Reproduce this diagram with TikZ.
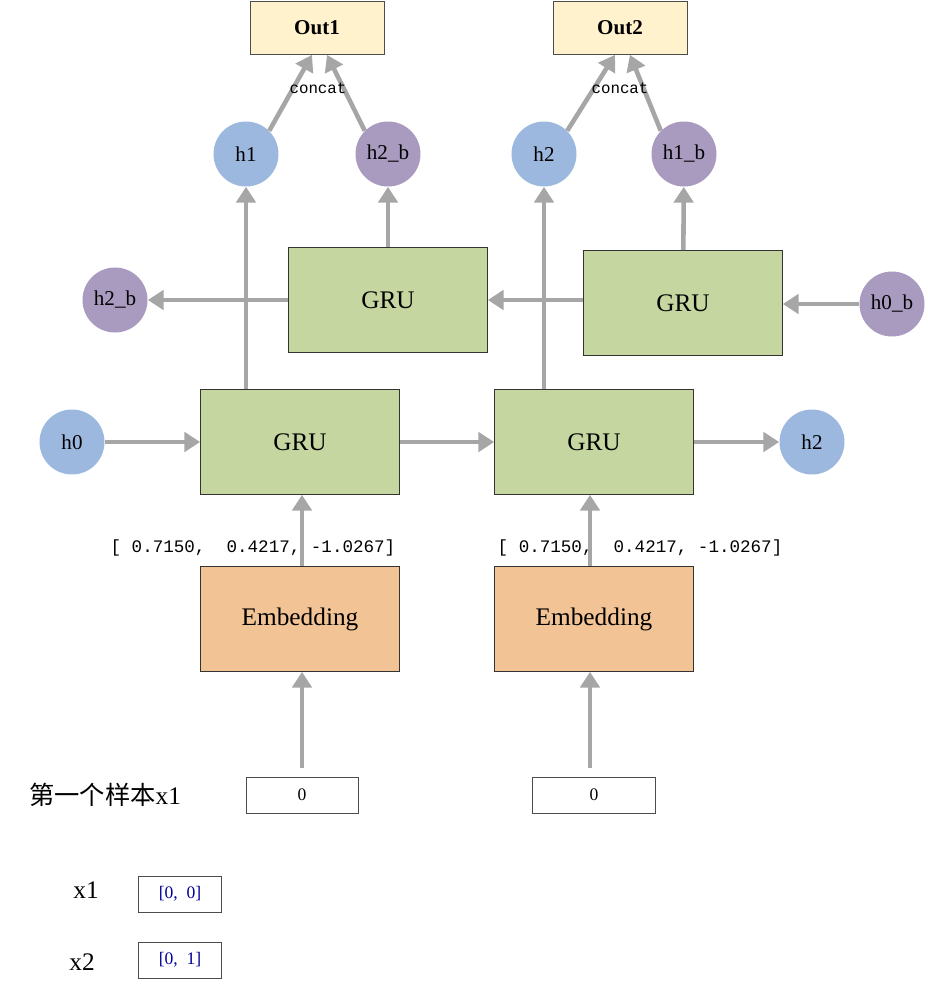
\documentclass[tikz,border=0pt]{standalone}
\usepackage{fontspec}
\setmainfont{Liberation Serif}
\newfontfamily\cjk{Noto Sans CJK SC}
\newfontfamily\monofont{Liberation Mono}
\usetikzlibrary{arrows.meta}
\definecolor{gruGreen}{HTML}{C5D6A0}
\definecolor{embOrange}{HTML}{F2C495}
\definecolor{outYellow}{HTML}{FFF2CC}
\definecolor{hBlue}{HTML}{9DB8DF}
\definecolor{hPurple}{HTML}{A99AC0}
\definecolor{arrGray}{HTML}{A6A6A6}
\tikzset{
  gru/.style = {draw=black!80, fill=gruGreen, minimum width=3.98cm, minimum height=2.1cm, font=\Large},
  emb/.style = {draw=black!80, fill=embOrange, minimum width=3.98cm, minimum height=2.1cm, font=\Large},
  outbox/.style = {draw=black!70, fill=outYellow, minimum width=2.68cm, minimum height=1.06cm, font=\large\bfseries},
  inbox/.style = {draw=black!70, minimum height=0.72cm},
  hf/.style = {circle, fill=hBlue, minimum size=1.3cm, inner sep=0pt, font=\large},
  hb/.style = {circle, fill=hPurple, minimum size=1.3cm, inner sep=0pt, font=\large},
  flow/.style = {draw=arrGray, line width=2.6pt, -{Triangle[length=9pt,width=11pt]}}
}
\begin{document}
\begin{tikzpicture}[x=0.02cm, y=-0.02cm]
        \useasboundingbox (0,0) rectangle (928,991);
        % outputs
        \node[outbox] (out1) at (317,28) {Out1};
        \node[outbox] (out2) at (620,28) {Out2};
        % hidden states
        \node[hf] (h1) at (246,154) {h1};
        \node[hb] (h2b) at (388,154) {h2\_b};
        \node[hf] (h2) at (544,154) {h2};
        \node[hb] (h1b) at (684,154) {h1\_b};
        \node[hb] (h2bl) at (115,300) {h2\_b};
        \node[hb] (h0b) at (892,304) {h0\_b};
        \node[hf] (h0) at (72,442) {h0};
        \node[hf] (h2r) at (812,442) {h2};
        % GRU cells
        \node[gru] (gruB1) at (388,300) {GRU};
        \node[gru] (gruB2) at (683,303) {GRU};
        \node[gru] (gruF1) at (300,442) {GRU};
        \node[gru] (gruF2) at (594,442) {GRU};
        % embeddings and inputs
        \node[emb] (emb1) at (300,619) {Embedding};
        \node[emb] (emb2) at (594,619) {Embedding};
        \node[inbox, minimum width=2.24cm] (in1) at (302,795) {0};
        \node[inbox, minimum width=2.46cm] (in2) at (594,795) {0};
        \node (vec1) at (253,548) {\monofont [ 0.7150,\ \ 0.4217, -1.0267]};
        \node (vec2) at (640,548) {\monofont [ 0.7150,\ \ 0.4217, -1.0267]};
        \node (smp) at (105,795) {\Large{\cjk 第一个样本}x1};
        \node (lx1) at (86,890) {\Large x1};
        \node (lx2) at (82,962) {\Large x2};
        \node[inbox, minimum width=1.66cm] (v1) at (180,894) {\color{blue!60!black}[0,\ \ 0]};
        \node[inbox, minimum width=1.66cm] (v2) at (180,960) {\color{blue!60!black}[0,\ \ 1]};
        \coordinate (c1) at (302,768);
        \coordinate (c2) at (590,768);
        % connectors
        \draw[flow] (c1) -- (emb1.south -| c1);
        \draw[flow] (c2) -- (emb2.south -| c2);
        \draw[flow] (emb1.north -| c1) -- (gruF1.south -| c1);
        \draw[flow] (emb2.north -| c2) -- (gruF2.south -| c2);
        \draw[flow] (h0) -- (gruF1.west |- h0);
        \draw[flow] (gruF1) -- (gruF2);
        \draw[flow] (gruF2.east |- h2r) -- (h2r);
        \draw[flow] (gruF1.north -| h1) -- (h1);
        \draw[flow] (gruF2.north -| h2) -- (h2);
        \draw[flow] (h0b) -- (gruB2.east |- h0b);
        \draw[flow] (gruB2.west |- gruB1) -- (gruB1.east);
        \draw[flow] (gruB1.west) -- (h2bl);
        \draw[flow] (gruB1) -- (h2b);
        \draw[flow] (gruB2) -- (h1b);
        \draw[flow] (h1.north east) -- ([xshift=-0.1cm]out1.south);
        \draw[flow] (h2b.north west) -- ([xshift=0.2cm]out1.south);
        \draw[flow] (h2.north east) -- ([xshift=-0.1cm]out2.south);
        \draw[flow] (h1b.north west) -- ([xshift=0.2cm]out2.south);
        \node[font=\monofont\small] at (318,88) {concat};
        \node[font=\monofont\small] at (620,88) {concat};
\end{tikzpicture}
\end{document}
